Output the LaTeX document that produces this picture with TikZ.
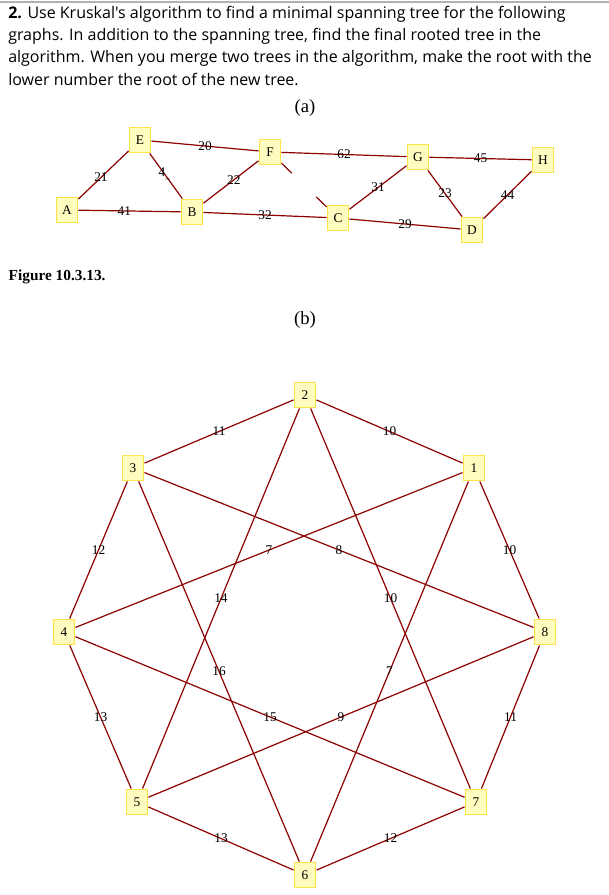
\documentclass[tikz,border=0pt]{standalone}
\usepackage{fontspec}
\usetikzlibrary{calc}
\setmainfont{Liberation Serif}
\newfontfamily\osans{Open Sans}
\begin{document}
\begin{tikzpicture}[x=0.75pt,y=-0.75pt,
 vbox/.style={draw=yellow!75!orange!70,line width=1.2pt,fill=yellow!25,minimum width=16pt,minimum height=19pt,inner sep=1pt,font=\fontsize{10}{12}\selectfont},
 edge/.style={draw=red!55!black,line width=0.9pt},
 lab/.style={font=\fontsize{10}{11}\selectfont,inner sep=0pt},
 txt/.style={anchor=west,font=\osans\fontsize{12}{14}\selectfont,inner sep=0pt}]
\useasboundingbox (0,0) rectangle (609,895);
\draw[gray!60,line width=0.8pt] (0,2) -- (609,2);
\node[txt] (t1) at (8,14) {\textbf{2.} Use Kruskal's algorithm to find a minimal spanning tree for the following};
\node[txt] (t2) at (8,36) {graphs. In addition to the spanning tree, find the final rooted tree in the};
\node[txt] (t3) at (8,58) {algorithm. When you merge two trees in the algorithm, make the root with the};
\node[txt] (t4) at (8,79) {lower number the root of the new tree.};
\node[font=\fontsize{14}{16}\selectfont] (ta) at (305,108) {(a)};
\node[anchor=west,font=\bfseries\fontsize{11.5}{13}\selectfont] (fig) at (4,277) {Figure 10.3.13.};
\node[font=\fontsize{14}{16}\selectfont] (tb) at (305,320) {(b)};
% graph a
\node[vbox] (A) at (67,210) {A};
\node[vbox] (E) at (140,140) {E};
\node[vbox] (B) at (192,212) {B};
\node[vbox] (F) at (270,152) {F};
\node[vbox] (G) at (418,157) {G};
\node[vbox] (H) at (543,160) {H};
\node[vbox] (C) at (338,218) {C};
\node[vbox] (D) at (472,230) {D};
\draw[edge] (E) -- node[lab]{20} (F);
\draw[edge] (F) -- node[lab]{62} (G);
\draw[edge] (G) -- node[lab]{45} (H);
\draw[edge] (A) -- node[lab,pos=0.45]{21} (E);
\draw[edge] (E) -- node[lab,pos=0.45]{4\raisebox{-2pt}{\scriptsize\_}} (B);
\draw[edge] (B) -- node[lab,pos=0.55]{22} (F);
\draw[edge] (C) -- node[lab]{31} (G);
\draw[edge] (G) -- node[lab]{23} (D);
\draw[edge] (D) -- node[lab]{44} (H);
\draw[edge] (A) -- node[lab,pos=0.45]{41} (B);
\draw[edge] (B) -- node[lab]{32} (C);
\draw[edge] (C) -- node[lab]{29} (D);
\draw[edge] (F) -- ($(F)!0.32!(C)$);
\draw[edge] ($(F)!0.68!(C)$) -- (C);
% graph b
\node[vbox] (n2) at (305,395) {2};
\node[vbox] (n1) at (474,468) {1};
\node[vbox] (n8) at (545,632) {8};
\node[vbox] (n7) at (476,802) {7};
\node[vbox] (n6) at (305,875) {6};
\node[vbox] (n5) at (137,802) {5};
\node[vbox] (n4) at (64,632) {4};
\node[vbox] (n3) at (133,468) {3};
\draw[edge] (n2) -- node[lab]{10} (n1);
\draw[edge] (n1) -- node[lab]{10} (n8);
\draw[edge] (n8) -- node[lab]{11} (n7);
\draw[edge] (n7) -- node[lab]{12} (n6);
\draw[edge] (n6) -- node[lab]{13} (n5);
\draw[edge] (n5) -- node[lab]{13} (n4);
\draw[edge] (n4) -- node[lab]{12} (n3);
\draw[edge] (n3) -- node[lab]{11} (n2);
\draw[edge] (n2) -- node[lab]{14} (n5);
\draw[edge] (n2) -- node[lab]{10} (n7);
\draw[edge] (n3) -- node[lab]{8} (n8);
\draw[edge] (n1) -- node[lab]{7} (n4);
\draw[edge] (n3) -- node[lab]{16} (n6);
\draw[edge] (n1) -- node[lab]{7} (n6);
\draw[edge] (n4) -- node[lab]{15} (n7);
\draw[edge] (n5) -- node[lab]{9} (n8);
\end{tikzpicture}
\end{document}
